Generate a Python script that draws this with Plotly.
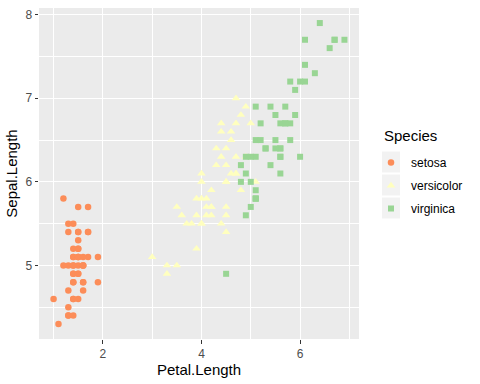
import plotly.graph_objects as go

species = ["setosa", "versicolor", "virginica"]
colors = ["#FC8D59", "#FFFFBF", "#99D594"]
symbols = ["circle", "triangle-up", "square"]
sizes = [6.5, 7.5, 6]

setosa_petal = [1.4,1.4,1.3,1.5,1.4,1.7,1.4,1.5,1.4,1.5,1.5,1.6,1.4,1.1,1.2,1.5,1.3,1.4,1.7,1.5,
                1.7,1.5,1.0,1.7,1.9,1.6,1.6,1.5,1.4,1.6,1.6,1.5,1.5,1.4,1.5,1.2,1.3,1.4,1.3,1.5,
                1.3,1.3,1.3,1.6,1.9,1.4,1.6,1.4,1.5,1.4]
setosa_sepal = [5.1,4.9,4.7,4.6,5.0,5.4,4.6,5.0,4.4,4.9,5.4,4.8,4.8,4.3,5.8,5.7,5.4,5.1,5.7,5.1,
                5.4,5.1,4.6,5.1,4.8,5.0,5.0,5.2,5.2,4.7,4.8,5.4,5.2,5.5,4.9,5.0,5.5,4.9,4.4,5.1,
                5.0,4.5,4.4,5.0,5.1,4.8,5.1,4.6,5.3,5.0]
versicolor_petal = [4.7,4.5,4.9,4.0,4.6,4.5,4.7,3.3,4.6,3.9,3.5,4.2,4.0,4.7,3.6,4.4,4.5,4.1,4.5,3.9,
                    4.8,4.0,4.9,4.7,4.3,4.4,4.8,5.0,4.5,3.5,3.8,3.7,3.9,5.1,4.5,4.5,4.7,4.4,4.1,4.0,
                    4.4,4.6,4.0,3.3,4.2,4.2,4.2,4.3,3.0,4.1]
versicolor_sepal = [7.0,6.4,6.9,5.5,6.5,5.7,6.3,4.9,6.6,5.2,5.0,5.9,6.0,6.1,5.6,6.7,5.6,5.8,6.2,5.6,
                    5.9,6.1,6.3,6.1,6.4,6.6,6.8,6.7,6.0,5.7,5.5,5.5,5.8,6.0,5.4,6.0,6.7,6.3,5.6,5.5,
                    5.5,6.1,5.8,5.0,5.6,5.7,5.7,6.2,5.1,5.7]
virginica_petal = [6.0,5.1,5.9,5.6,5.8,6.6,4.5,6.3,5.8,6.1,5.1,5.3,5.5,5.0,5.1,5.3,5.5,6.7,6.9,5.0,
                   5.7,4.9,6.7,4.9,5.7,6.0,4.8,4.9,5.6,5.8,6.1,6.4,5.6,5.1,5.6,6.1,5.6,5.5,4.8,5.4,
                   5.6,5.1,5.1,5.9,5.7,5.2,5.0,5.2,5.4,5.1]
virginica_sepal = [6.3,5.8,7.1,6.3,6.5,7.6,4.9,7.3,6.7,7.2,6.5,6.4,6.8,5.7,5.8,6.4,6.5,7.7,7.7,6.0,
                   6.9,5.6,7.7,6.3,6.7,7.2,6.2,6.1,6.4,7.2,7.4,7.9,6.4,6.3,6.1,7.7,6.3,6.4,6.0,6.9,
                   6.7,6.9,5.8,6.8,6.7,6.7,6.3,6.5,6.2,5.9]

xs = [setosa_petal, versicolor_petal, virginica_petal]
ys = [setosa_sepal, versicolor_sepal, virginica_sepal]

FONT = "Liberation Sans, Arial, sans-serif"

fig = go.Figure()
for i, sp in enumerate(species):
    fig.add_trace(go.Scatter(
        x=xs[i], y=ys[i], mode="markers", name=sp, legendgroup=sp,
        marker=dict(color=colors[i], symbol=symbols[i], size=sizes[i], line=dict(width=0)),
    ))

axis_common = dict(
    showline=False, zeroline=False, showgrid=True, gridcolor="white", gridwidth=1.1,
    ticks="outside", ticklen=3.5, tickwidth=1, tickcolor="#333333",
    tickfont=dict(family=FONT, size=12, color="#4D4D4D"),
    minor=dict(showgrid=True, gridcolor="white", gridwidth=0.55),
    automargin=False,
)

fig.update_xaxes(range=[0.705, 7.195], tickvals=[2, 4, 6],
                 minor_tickvals=[1, 3, 5, 7],
                 title=dict(text="Petal.Length", font=dict(family=FONT, size=15, color="black"), standoff=1),
                 **axis_common)
fig.update_yaxes(range=[4.12, 8.08], tickvals=[5, 6, 7, 8],
                 minor_tickvals=[4.5, 5.5, 6.5, 7.5],
                 title=dict(text="Sepal.Length", font=dict(family=FONT, size=15, color="black"), standoff=4),
                 **axis_common)

# grey legend key backgrounds
L, R, T, B = 39, 359, 8, 339
def px_x(p):
    return (p - L) / (R - L)
def px_y(p):
    return (B - p) / (B - T)
for yc in [162, 185, 208]:
    fig.add_shape(type="rect", xref="paper", yref="paper",
                  x0=px_x(382), x1=px_x(400), y0=px_y(yc + 10.5), y1=px_y(yc - 10.5),
                  fillcolor="#F2F2F2", line=dict(width=0), layer="below")

fig.add_annotation(text="Species", xref="paper", yref="paper", x=px_x(382), y=px_y(135),
                   xanchor="left", yanchor="middle", showarrow=False,
                   font=dict(family=FONT, size=15, color="black"))

fig.update_layout(
    width=480, height=384,
    margin=dict(l=L, r=480 - R, t=T, b=384 - B),
    paper_bgcolor="white", plot_bgcolor="#EBEBEB",
    font=dict(family=FONT, color="black"),
    legend=dict(
        font=dict(family=FONT, size=12, color="black"),
        x=px_x(371), xanchor="left", y=px_y(148), yanchor="top",
        bgcolor="rgba(0,0,0,0)", tracegroupgap=4, itemsizing="trace",
    ),
    showlegend=True,
)

fig.write_html("out.html", config={"displayModeBar": False},
               post_script="document.body.style.margin='0px';")
